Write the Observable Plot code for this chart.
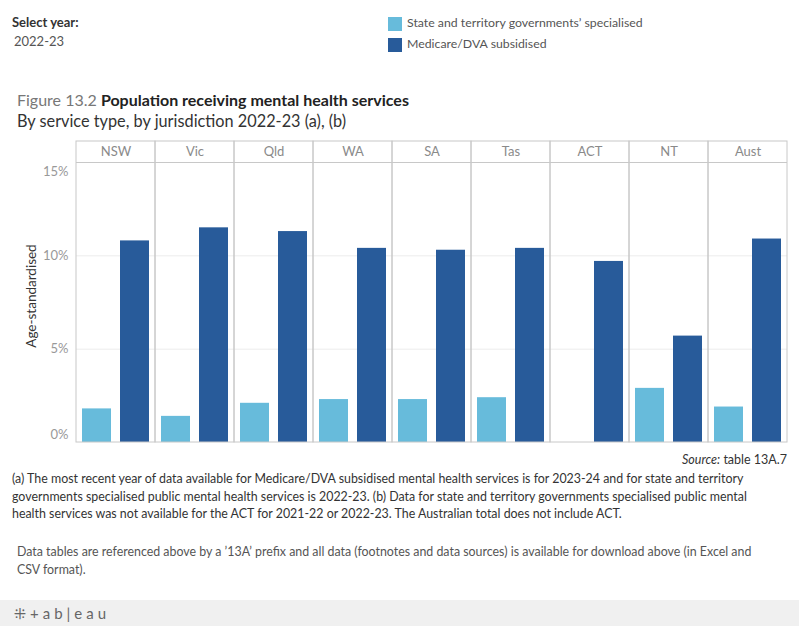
<!DOCTYPE html>
<html>
<head>
<meta charset="utf-8">
<script src="https://cdn.jsdelivr.net/npm/d3@7"></script>
<script src="https://cdn.jsdelivr.net/npm/@observablehq/plot@0.6"></script>
<style>
  html, body { margin: 0; padding: 0; background: #fff; }
  body { width: 799px; height: 626px; position: relative; overflow: hidden; font-family: Lato, "Open Sans", sans-serif; color: #333; }
  .abs { position: absolute; white-space: nowrap; }
  #chart { position: absolute; left: 0; top: 134px; }
  .sw { display: inline-block; width: 14px; height: 14px; vertical-align: middle; margin-right: 5px; }
</style>
</head>
<body>
<div class="abs" style="left:12px; top:14px; font-size:13px; font-weight:bold; color:#333;">Select year:</div>
<div class="abs" style="left:14px; top:33px; font-size:13px; color:#555;">2022-23</div>
<div id="legend" class="abs" style="left:388px; top:12px; font-size:12.3px; color:#555; line-height:21px;"></div>

<div class="abs" style="left:17px; top:90px; font-size:16px; color:#333;"><span style="color:#777;">Figure 13.2</span> <b style="color:#222;">Population receiving mental health services</b></div>
<div class="abs" style="left:17px; top:111px; font-size:16.3px; color:#333;">By service type, by jurisdiction 2022-23 (a), (b)</div>

<div id="chart"></div>
<div class="abs" style="left:31px; top:296px; transform: translate(-50%,-50%) rotate(-90deg); font-size:13.5px; color:#333;">Age-standardised</div>

<div class="abs" style="right:12px; top:452px; font-size:12.5px; color:#333;"><i>Source:</i> table 13A.7</div>
<div class="abs" style="left:12px; top:470px; font-size:12.4px; color:#333; line-height:17.5px;">
(a) The most recent year of data available for Medicare/DVA subsidised mental health services is for 2023-24 and for state and territory<br>
governments specialised public mental health services is 2022-23. (b) Data for state and territory governments specialised public mental<br>
health services was not available for the ACT for 2021-22 or 2022-23. The Australian total does not include ACT.
</div>
<div class="abs" style="left:17px; top:543px; font-size:12.4px; color:#555; line-height:17.5px;">
Data tables are referenced above by a ’13A’ prefix and all data (footnotes and data sources) is available for download above (in Excel and<br>
CSV format).
</div>
<div class="abs" style="left:0; top:600px; width:799px; height:26px; background:#f0f0f0;"></div>
<div class="abs" style="left:14px; top:603px; font-size:15px; color:#666; letter-spacing:4px;">⁜+ab|eau</div>

<script>
const jurisdictions = ["NSW", "Vic", "Qld", "WA", "SA", "Tas", "ACT", "NT", "Aust"];
const seriesNames = ["State and territory governments’ specialised", "Medicare/DVA subsidised"];
const stateValues = [1.8, 1.4, 2.1, 2.3, 2.3, 2.4, null, 2.9, 1.9];
const medicareValues = [10.8, 11.5, 11.3, 10.4, 10.3, 10.4, 9.7, 5.7, 10.9];
const yTicks = [0, 5, 10, 15];
const colors = ["#67bbdb", "#285b9a"];

// legend
document.getElementById("legend").innerHTML = seriesNames.map((s, i) =>
  `<div><span class="sw" style="background:${colors[i]}"></span>${s}</div>`).join("");

const rows = [];
jurisdictions.forEach((j, i) => {
  rows.push({jur: j, series: seriesNames[0], value: stateValues[i]});
  rows.push({jur: j, series: seriesNames[1], value: medicareValues[i]});
});

const height = 312, marginTop = 28, marginBottom = 4;
const pxPerUnit = (height - marginTop - marginBottom) / 15;
const headerTop = 15 + 21 / pxPerUnit;
const headerMid = 15 + 10.5 / pxPerUnit;
const fmt = d => d + "%";

const chart = Plot.plot({
  width: 799,
  height,
  marginLeft: 76,
  marginRight: 12,
  marginTop,
  marginBottom,
  style: {fontFamily: "Lato, 'Open Sans', sans-serif", background: "white"},
  fx: {domain: jurisdictions, padding: 0, axis: null},
  x: {domain: seriesNames, paddingInner: 0.23, paddingOuter: 0.128, axis: null},
  y: {domain: [0, 15], axis: null},
  color: {domain: seriesNames, range: colors},
  marks: [
    Plot.ruleY([5, 10], {stroke: "#ececec"}),
    Plot.barY(rows.filter(d => d.value != null), {fx: "jur", x: "series", y: "value", fill: "series"}),
    Plot.rect(jurisdictions, {fx: d => d, y1: 0, y2: headerTop, stroke: "#c8c8c8", fill: "none"}),
    Plot.ruleY([15], {stroke: "#c8c8c8"}),
    Plot.text(jurisdictions, {fx: d => d, y: headerMid, text: d => d, fill: "#8a8a8a", fontSize: 13}),
    Plot.axisY(yTicks.filter(t => t > 0 && t < 15), {tickSize: 0, tickPadding: 8, tickFormat: fmt, fill: "#999", fontSize: 13, label: null}),
    Plot.axisY([yTicks[0]], {tickSize: 0, tickPadding: 8, tickFormat: fmt, fill: "#999", fontSize: 13, label: null, dy: -8}),
    Plot.axisY([yTicks[3]], {tickSize: 0, tickPadding: 8, tickFormat: fmt, fill: "#999", fontSize: 13, label: null, dy: 9})
  ]
});
document.getElementById("chart").append(chart);
</script>
</body>
</html>
